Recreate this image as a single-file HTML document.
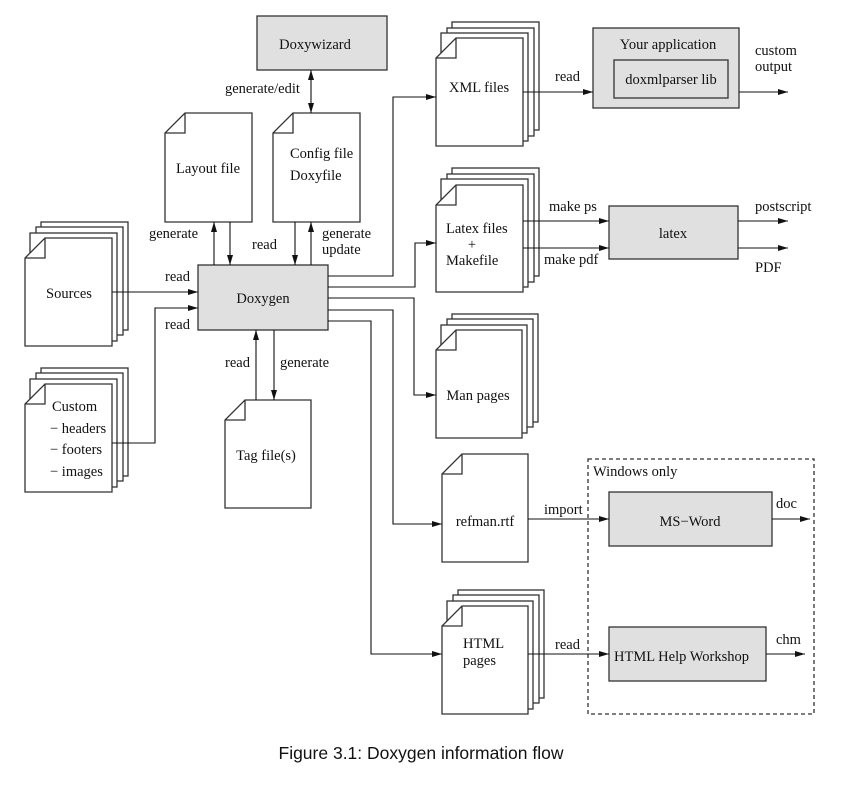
<!DOCTYPE html>
<html><head><meta charset="utf-8"><style>
body{margin:0;background:#fff;}
svg text{font-family:"Liberation Serif",serif;font-size:14.5px;fill:#111;}
</style></head><body>
<svg width="842" height="782" viewBox="0 0 842 782" xmlns="http://www.w3.org/2000/svg">
<defs>
<marker id="a" viewBox="0 0 10 6" refX="10" refY="3" markerWidth="10" markerHeight="6" markerUnits="userSpaceOnUse" orient="auto-start-reverse"><path d="M0,0 L10,3 L0,6 z" fill="#111"/></marker>
</defs>
<g stroke="#333" stroke-width="1.3" fill="none">
<rect x="257" y="16" width="130" height="54" fill="#e0e0e0"/>
<rect x="198" y="265" width="130" height="65" fill="#e0e0e0"/>
<rect x="593" y="28" width="146" height="80" fill="#e0e0e0"/>
<rect x="614" y="60" width="114" height="38" fill="#e0e0e0"/>
<rect x="609" y="206" width="129" height="53" fill="#e0e0e0"/>
<rect x="609" y="492" width="163" height="54" fill="#e0e0e0"/>
<rect x="609" y="627" width="157" height="54" fill="#e0e0e0"/>
<rect x="588" y="459" width="226" height="255" stroke-dasharray="4,3"/>

<g fill="#fff">
<rect x="41" y="222" width="87" height="108"/><rect x="36" y="227" width="87" height="108"/><rect x="30" y="233" width="87" height="108"/>
<rect x="41" y="368" width="87" height="108"/><rect x="36" y="373" width="87" height="108"/><rect x="30" y="379" width="87" height="108"/>
<rect x="452" y="22" width="87" height="108"/><rect x="447" y="28" width="87" height="108"/><rect x="441" y="33" width="87" height="108"/>
<rect x="452" y="168" width="87" height="108"/><rect x="447" y="174" width="87" height="108"/><rect x="441" y="179" width="87" height="108"/>
<rect x="452" y="314" width="86" height="108"/><rect x="447" y="319" width="86" height="108"/><rect x="441" y="325" width="86" height="108"/>
<rect x="458" y="590" width="86" height="108"/><rect x="453" y="595" width="86" height="108"/><rect x="447" y="601" width="86" height="108"/>
</g>
<g fill="#fff">
<path d="M45,238 H112 V346 H25 V258 Z M45,238 V258 H25"/>
<path d="M45,384 H112 V492 H25 V404 Z M45,384 V404 H25"/>
<path d="M185,113 H252 V222 H165 V133 Z M185,113 V133 H165"/>
<path d="M293,113 H360 V222 H273 V133 Z M293,113 V133 H273"/>
<path d="M245,400 H311 V508 H225 V420 Z M245,400 V420 H225"/>
<path d="M456,38 H523 V146 H436 V58 Z M456,38 V58 H436"/>
<path d="M456,185 H523 V292 H436 V205 Z M456,185 V205 H436"/>
<path d="M456,330 H522 V438 H436 V350 Z M456,330 V350 H436"/>
<path d="M462,454 H528 V562 H442 V474 Z M462,454 V474 H442"/>
<path d="M462,606 H528 V714 H442 V626 Z M462,606 V626 H442"/>
</g>

<g stroke="#111" stroke-width="1.1">
<path d="M311,70 V113" marker-start="url(#a)" marker-end="url(#a)"/>
<path d="M214,265 V222" marker-end="url(#a)"/>
<path d="M230,222 V265" marker-end="url(#a)"/>
<path d="M295,222 V265" marker-end="url(#a)"/>
<path d="M311,265 V222" marker-end="url(#a)"/>
<path d="M112,292 H198" marker-end="url(#a)"/>
<path d="M112,443 H155 V308 H198" marker-end="url(#a)"/>
<path d="M256,400 V330" marker-end="url(#a)"/>
<path d="M274,330 V400" marker-end="url(#a)"/>
<path d="M328,276 H393 V97 H436" marker-end="url(#a)"/>
<path d="M328,287 H415 V243 H436" marker-end="url(#a)"/>
<path d="M328,298 H414 V395 H436" marker-end="url(#a)"/>
<path d="M328,310 H393 V524 H442" marker-end="url(#a)"/>
<path d="M328,321 H371 V654 H442" marker-end="url(#a)"/>
<path d="M523,92 H593" marker-end="url(#a)"/>
<path d="M739,92 H788" marker-end="url(#a)"/>
<path d="M523,221 H609" marker-end="url(#a)"/>
<path d="M523,248 H609" marker-end="url(#a)"/>
<path d="M738,221 H788" marker-end="url(#a)"/>
<path d="M738,248 H788" marker-end="url(#a)"/>
<path d="M528,519 H609" marker-end="url(#a)"/>
<path d="M772,519 H810" marker-end="url(#a)"/>
<path d="M528,654 H609" marker-end="url(#a)"/>
<path d="M766,654 H805" marker-end="url(#a)"/>
</g>
</g>

<g text-anchor="middle">
<text x="315" y="49">Doxywizard</text>
<text x="263" y="303">Doxygen</text>
<text x="208" y="173">Layout file</text>
<text x="69" y="298">Sources</text>
<text x="266" y="460">Tag file(s)</text>
<text x="479" y="92">XML files</text>
<text x="668" y="49">Your application</text>
<text x="671" y="84">doxmlparser lib</text>
<text x="673" y="238">latex</text>
<text x="478" y="400">Man pages</text>
<text x="485" y="526">refman.rtf</text>
<text x="690" y="526">MS−Word</text>
</g>
<text x="290" y="158">Config file</text>
<text x="290" y="180">Doxyfile</text>
<text x="446" y="233">Latex files</text>
<text x="472" y="249" text-anchor="middle">+</text>
<text x="446" y="265">Makefile</text>
<text x="52" y="411">Custom</text>
<text x="50" y="433">− headers</text>
<text x="50" y="454">− footers</text>
<text x="50" y="476">− images</text>
<text x="463" y="648">HTML</text>
<text x="463" y="665">pages</text>
<text x="614" y="661">HTML Help Workshop</text>
<text x="225" y="93">generate/edit</text>
<text x="149" y="238">generate</text>
<text x="252" y="249">read</text>
<text x="322" y="238">generate</text>
<text x="322" y="254">update</text>
<text x="165" y="281">read</text>
<text x="165" y="329">read</text>
<text x="225" y="367">read</text>
<text x="280" y="367">generate</text>
<text x="555" y="81">read</text>
<text x="755" y="55">custom</text>
<text x="755" y="71">output</text>
<text x="549" y="211">make ps</text>
<text x="544" y="264">make pdf</text>
<text x="755" y="211">postscript</text>
<text x="755" y="272">PDF</text>
<text x="593" y="476">Windows only</text>
<text x="544" y="514">import</text>
<text x="776" y="508">doc</text>
<text x="555" y="649">read</text>
<text x="776" y="644">chm</text>
<text x="421" y="759" text-anchor="middle" style="font-family:'Liberation Sans',sans-serif;font-size:17.5px">Figure 3.1: Doxygen information flow</text>
</svg>
</body></html>
